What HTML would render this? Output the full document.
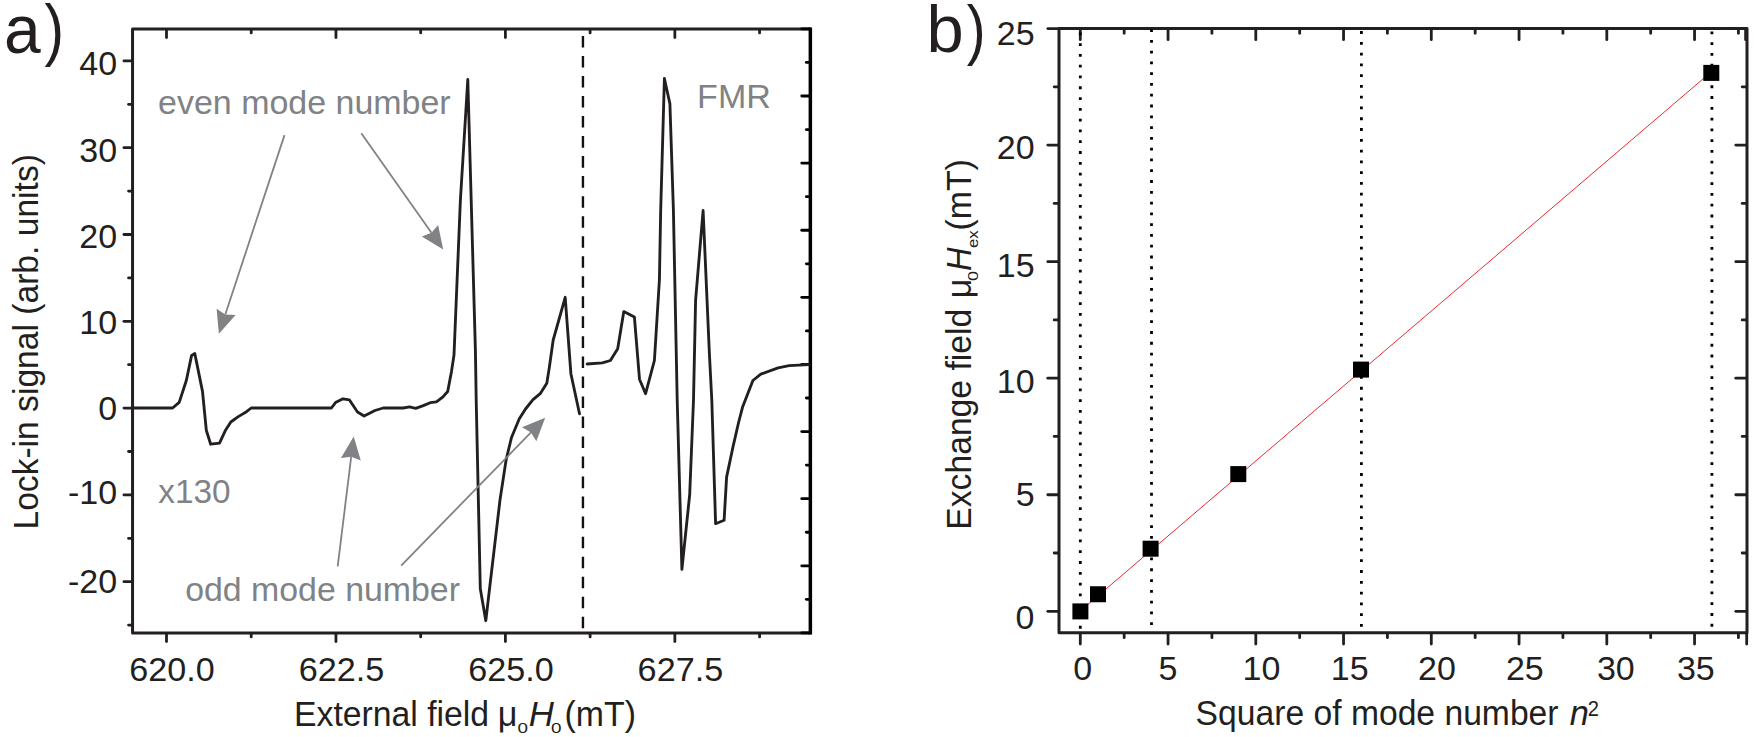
<!DOCTYPE html>
<html lang="en">
<head>
<meta charset="utf-8">
<title>Spin-wave resonance figure</title>
<style>
html,body{margin:0;padding:0;background:#fff;}
body{width:1754px;height:737px;overflow:hidden;}
svg{display:block;}
svg text{font-family:"Liberation Sans",sans-serif;}
</style>
</head>
<body>
<svg width="1754" height="737" viewBox="0 0 1754 737">
<rect x="0" y="0" width="1754" height="737" fill="#ffffff"/>
<path d="M810.35 28.9 H132.55 V632.9 H810.35" fill="none" stroke="#231f20" stroke-width="3.0" stroke-linejoin="round"/>
<line x1="810.35" y1="27.40" x2="810.35" y2="634.40" stroke="#000" stroke-width="3.5"/>
<line x1="131.85" y1="581.70" x2="123.95" y2="581.70" stroke="#231f20" stroke-width="2.8" stroke-linecap="round"/>
<line x1="131.85" y1="494.90" x2="123.95" y2="494.90" stroke="#231f20" stroke-width="2.8" stroke-linecap="round"/>
<line x1="131.85" y1="408.10" x2="123.95" y2="408.10" stroke="#231f20" stroke-width="2.8" stroke-linecap="round"/>
<line x1="131.85" y1="321.30" x2="123.95" y2="321.30" stroke="#231f20" stroke-width="2.8" stroke-linecap="round"/>
<line x1="131.85" y1="234.50" x2="123.95" y2="234.50" stroke="#231f20" stroke-width="2.8" stroke-linecap="round"/>
<line x1="131.85" y1="147.70" x2="123.95" y2="147.70" stroke="#231f20" stroke-width="2.8" stroke-linecap="round"/>
<line x1="131.85" y1="60.90" x2="123.95" y2="60.90" stroke="#231f20" stroke-width="2.8" stroke-linecap="round"/>
<line x1="131.85" y1="625.10" x2="128.55" y2="625.10" stroke="#231f20" stroke-width="2.8" stroke-linecap="round"/>
<line x1="131.85" y1="538.30" x2="128.55" y2="538.30" stroke="#231f20" stroke-width="2.8" stroke-linecap="round"/>
<line x1="131.85" y1="451.50" x2="128.55" y2="451.50" stroke="#231f20" stroke-width="2.8" stroke-linecap="round"/>
<line x1="131.85" y1="364.70" x2="128.55" y2="364.70" stroke="#231f20" stroke-width="2.8" stroke-linecap="round"/>
<line x1="131.85" y1="277.90" x2="128.55" y2="277.90" stroke="#231f20" stroke-width="2.8" stroke-linecap="round"/>
<line x1="131.85" y1="191.10" x2="128.55" y2="191.10" stroke="#231f20" stroke-width="2.8" stroke-linecap="round"/>
<line x1="131.85" y1="104.30" x2="128.55" y2="104.30" stroke="#231f20" stroke-width="2.8" stroke-linecap="round"/>
<line x1="166.50" y1="633.60" x2="166.50" y2="641.50" stroke="#231f20" stroke-width="2.8" stroke-linecap="round"/>
<line x1="166.50" y1="29.60" x2="166.50" y2="37.50" stroke="#231f20" stroke-width="2.8" stroke-linecap="round"/>
<line x1="335.95" y1="633.60" x2="335.95" y2="641.50" stroke="#231f20" stroke-width="2.8" stroke-linecap="round"/>
<line x1="335.95" y1="29.60" x2="335.95" y2="37.50" stroke="#231f20" stroke-width="2.8" stroke-linecap="round"/>
<line x1="505.40" y1="633.60" x2="505.40" y2="641.50" stroke="#231f20" stroke-width="2.8" stroke-linecap="round"/>
<line x1="505.40" y1="29.60" x2="505.40" y2="37.50" stroke="#231f20" stroke-width="2.8" stroke-linecap="round"/>
<line x1="674.85" y1="633.60" x2="674.85" y2="641.50" stroke="#231f20" stroke-width="2.8" stroke-linecap="round"/>
<line x1="674.85" y1="29.60" x2="674.85" y2="37.50" stroke="#231f20" stroke-width="2.8" stroke-linecap="round"/>
<line x1="251.22" y1="633.60" x2="251.22" y2="636.90" stroke="#231f20" stroke-width="2.8" stroke-linecap="round"/>
<line x1="251.22" y1="29.60" x2="251.22" y2="32.90" stroke="#231f20" stroke-width="2.8" stroke-linecap="round"/>
<line x1="420.68" y1="633.60" x2="420.68" y2="636.90" stroke="#231f20" stroke-width="2.8" stroke-linecap="round"/>
<line x1="420.68" y1="29.60" x2="420.68" y2="32.90" stroke="#231f20" stroke-width="2.8" stroke-linecap="round"/>
<line x1="590.12" y1="633.60" x2="590.12" y2="636.90" stroke="#231f20" stroke-width="2.8" stroke-linecap="round"/>
<line x1="590.12" y1="29.60" x2="590.12" y2="32.90" stroke="#231f20" stroke-width="2.8" stroke-linecap="round"/>
<line x1="759.58" y1="633.60" x2="759.58" y2="636.90" stroke="#231f20" stroke-width="2.8" stroke-linecap="round"/>
<line x1="759.58" y1="29.60" x2="759.58" y2="32.90" stroke="#231f20" stroke-width="2.8" stroke-linecap="round"/>
<line x1="809.65" y1="28.90" x2="801.75" y2="28.90" stroke="#000" stroke-width="2.8" stroke-linecap="round"/>
<line x1="809.65" y1="96.01" x2="801.75" y2="96.01" stroke="#000" stroke-width="2.8" stroke-linecap="round"/>
<line x1="809.65" y1="163.12" x2="801.75" y2="163.12" stroke="#000" stroke-width="2.8" stroke-linecap="round"/>
<line x1="809.65" y1="230.23" x2="801.75" y2="230.23" stroke="#000" stroke-width="2.8" stroke-linecap="round"/>
<line x1="809.65" y1="297.34" x2="801.75" y2="297.34" stroke="#000" stroke-width="2.8" stroke-linecap="round"/>
<line x1="809.65" y1="364.46" x2="801.75" y2="364.46" stroke="#000" stroke-width="2.8" stroke-linecap="round"/>
<line x1="809.65" y1="431.57" x2="801.75" y2="431.57" stroke="#000" stroke-width="2.8" stroke-linecap="round"/>
<line x1="809.65" y1="498.68" x2="801.75" y2="498.68" stroke="#000" stroke-width="2.8" stroke-linecap="round"/>
<line x1="809.65" y1="565.79" x2="801.75" y2="565.79" stroke="#000" stroke-width="2.8" stroke-linecap="round"/>
<line x1="809.65" y1="632.90" x2="801.75" y2="632.90" stroke="#000" stroke-width="2.8" stroke-linecap="round"/>
<line x1="809.65" y1="62.46" x2="806.35" y2="62.46" stroke="#000" stroke-width="2.8" stroke-linecap="round"/>
<line x1="809.65" y1="129.57" x2="806.35" y2="129.57" stroke="#000" stroke-width="2.8" stroke-linecap="round"/>
<line x1="809.65" y1="196.68" x2="806.35" y2="196.68" stroke="#000" stroke-width="2.8" stroke-linecap="round"/>
<line x1="809.65" y1="263.79" x2="806.35" y2="263.79" stroke="#000" stroke-width="2.8" stroke-linecap="round"/>
<line x1="809.65" y1="330.90" x2="806.35" y2="330.90" stroke="#000" stroke-width="2.8" stroke-linecap="round"/>
<line x1="809.65" y1="398.01" x2="806.35" y2="398.01" stroke="#000" stroke-width="2.8" stroke-linecap="round"/>
<line x1="809.65" y1="465.12" x2="806.35" y2="465.12" stroke="#000" stroke-width="2.8" stroke-linecap="round"/>
<line x1="809.65" y1="532.23" x2="806.35" y2="532.23" stroke="#000" stroke-width="2.8" stroke-linecap="round"/>
<line x1="809.65" y1="599.34" x2="806.35" y2="599.34" stroke="#000" stroke-width="2.8" stroke-linecap="round"/>
<line x1="582.95" y1="35.9" x2="582.95" y2="628.5" stroke="#140f10" stroke-width="2.4" stroke-dasharray="11.6 8.43"/>
<polyline points="132.8,408.0 172.6,408.0 179.2,402.4 186.4,380.2 191.6,355.4 194.8,353.6 202.5,391.4 206.3,430.2 210.7,444.2 219.5,443.1 225.2,430.8 230.8,422.0 238.3,416.6 246.5,411.7 251.2,408.0 331.4,408.0 335.5,402.6 343.0,398.8 349.3,399.8 357.5,412.0 364.1,416.0 375.0,410.5 383.2,408.0 403.2,408.0 409.5,406.8 415.7,408.4 423.3,405.6 430.2,402.7 436.4,401.9 442.7,397.1 447.7,391.5 451.5,371.4 454.0,355.0 460.4,200.0 467.8,79.5 475.4,350.0 476.2,400.0 480.3,588.8 485.8,620.7 500.0,499.9 506.2,459.3 511.5,437.5 519.3,418.7 525.5,409.0 533.0,399.6 540.5,393.3 546.8,383.3 549.3,367.6 553.2,340.0 565.2,297.3 570.9,373.7 579.5,413.8" fill="none" stroke="#231f20" stroke-width="2.85" stroke-linejoin="round" stroke-linecap="round"/>
<polyline points="587.1,364.0 602.4,362.9 610.4,360.5 617.7,348.8 623.8,311.6 634.4,317.1 639.5,379.2 645.6,393.7 654.4,360.5 659.4,280.0 660.7,210.0 664.4,78.5 669.9,103.8 673.4,210.0 677.2,400.0 681.9,569.4 689.7,494.5 693.5,400.0 695.6,300.2 703.1,210.5 709.4,353.7 711.8,400.0 715.6,523.7 724.1,520.3 726.6,477.1 732.9,447.2 738.7,422.0 742.5,407.3 752.9,380.5 760.8,374.2 778.1,367.9 789.1,365.7 809.0,364.7" fill="none" stroke="#231f20" stroke-width="2.85" stroke-linejoin="round" stroke-linecap="round"/>
<text x="158.07" y="113.80" font-size="34.0" fill="#808285" textLength="292.58" lengthAdjust="spacingAndGlyphs">even mode number</text>
<text x="185.18" y="601.00" font-size="34.0" fill="#808285" textLength="274.77" lengthAdjust="spacingAndGlyphs">odd mode number</text>
<text x="158.23" y="502.70" font-size="34.0" fill="#808285" textLength="72.38" lengthAdjust="spacingAndGlyphs">x130</text>
<text x="697.11" y="108.30" font-size="34.0" fill="#808285">FMR</text>
<line x1="284.50" y1="135.10" x2="225.30" y2="314.43" stroke="#808285" stroke-width="1.8"/>
<path d="M218.90 333.80 L216.61 308.82 L225.30 314.43 L235.61 315.09 Z" fill="#808285"/>
<line x1="361.30" y1="133.30" x2="431.45" y2="232.83" stroke="#808285" stroke-width="1.8"/>
<path d="M443.20 249.50 L421.78 236.46 L431.45 232.83 L438.12 224.94 Z" fill="#808285"/>
<line x1="337.70" y1="566.40" x2="351.21" y2="456.65" stroke="#808285" stroke-width="1.8"/>
<path d="M353.70 436.40 L360.82 460.45 L351.21 456.65 L340.97 458.01 Z" fill="#808285"/>
<line x1="401.20" y1="565.60" x2="530.96" y2="432.41" stroke="#808285" stroke-width="1.8"/>
<path d="M545.20 417.80 L536.31 441.25 L530.96 432.41 L521.99 427.30 Z" fill="#808285"/>
<text y="53.40" font-size="68.0" fill="#231f20"><tspan x="4.03" textLength="36.68" lengthAdjust="spacingAndGlyphs">a</tspan><tspan x="44.45" textLength="19.60" lengthAdjust="spacingAndGlyphs">)</tspan></text>
<text x="79.32" y="75.20" font-size="34.0" fill="#231f20">40</text>
<text x="79.32" y="161.80" font-size="34.0" fill="#231f20">30</text>
<text x="79.32" y="248.30" font-size="34.0" fill="#231f20">20</text>
<text x="79.32" y="334.40" font-size="34.0" fill="#231f20">10</text>
<text x="98.22" y="420.30" font-size="34.0" fill="#231f20">0</text>
<text x="68.00" y="503.90" font-size="34.0" fill="#231f20">-10</text>
<text x="68.00" y="592.90" font-size="34.0" fill="#231f20">-20</text>
<text x="129.29" y="681.00" font-size="34.0" fill="#231f20" textLength="85.45" lengthAdjust="spacingAndGlyphs">620.0</text>
<text x="298.74" y="681.00" font-size="34.0" fill="#231f20" textLength="85.56" lengthAdjust="spacingAndGlyphs">622.5</text>
<text x="468.19" y="681.00" font-size="34.0" fill="#231f20" textLength="85.45" lengthAdjust="spacingAndGlyphs">625.0</text>
<text x="637.64" y="681.00" font-size="34.0" fill="#231f20" textLength="85.56" lengthAdjust="spacingAndGlyphs">627.5</text>
<text fill="#231f20"><tspan x="294.03" y="726.00" font-size="35.5" textLength="195.12" lengthAdjust="spacingAndGlyphs">External field</tspan> <tspan x="497.71" y="726.00" font-size="35.5" textLength="19.69" lengthAdjust="spacingAndGlyphs">μ</tspan><tspan x="517.47" y="732.60" font-size="15.0" textLength="10.47" lengthAdjust="spacingAndGlyphs">0</tspan><tspan x="528.72" y="726.00" font-size="35.5" font-style="italic" textLength="25.15" lengthAdjust="spacingAndGlyphs">H</tspan><tspan x="551.07" y="732.60" font-size="15.0" textLength="10.47" lengthAdjust="spacingAndGlyphs">0</tspan><tspan x="564.60" y="726.00" font-size="35.5" textLength="71.39" lengthAdjust="spacingAndGlyphs">(mT)</tspan></text>
<g transform="translate(38.2 529.4) rotate(-90)">
<text x="-0.16" y="0.00" font-size="35.5" fill="#231f20" textLength="375.45" lengthAdjust="spacingAndGlyphs">Lock-in signal (arb. units)</text>
</g>
<rect x="1059.0" y="28.5" width="688.00" height="604.35" fill="none" stroke="#231f20" stroke-width="3.0" stroke-linejoin="round"/>
<line x1="1058.30" y1="611.30" x2="1047.80" y2="611.30" stroke="#231f20" stroke-width="2.8" stroke-linecap="round"/>
<line x1="1746.30" y1="611.30" x2="1735.80" y2="611.30" stroke="#231f20" stroke-width="2.8" stroke-linecap="round"/>
<line x1="1058.30" y1="494.75" x2="1047.80" y2="494.75" stroke="#231f20" stroke-width="2.8" stroke-linecap="round"/>
<line x1="1746.30" y1="494.75" x2="1735.80" y2="494.75" stroke="#231f20" stroke-width="2.8" stroke-linecap="round"/>
<line x1="1058.30" y1="378.20" x2="1047.80" y2="378.20" stroke="#231f20" stroke-width="2.8" stroke-linecap="round"/>
<line x1="1746.30" y1="378.20" x2="1735.80" y2="378.20" stroke="#231f20" stroke-width="2.8" stroke-linecap="round"/>
<line x1="1058.30" y1="261.65" x2="1047.80" y2="261.65" stroke="#231f20" stroke-width="2.8" stroke-linecap="round"/>
<line x1="1746.30" y1="261.65" x2="1735.80" y2="261.65" stroke="#231f20" stroke-width="2.8" stroke-linecap="round"/>
<line x1="1058.30" y1="145.10" x2="1047.80" y2="145.10" stroke="#231f20" stroke-width="2.8" stroke-linecap="round"/>
<line x1="1746.30" y1="145.10" x2="1735.80" y2="145.10" stroke="#231f20" stroke-width="2.8" stroke-linecap="round"/>
<line x1="1058.30" y1="28.55" x2="1047.80" y2="28.55" stroke="#231f20" stroke-width="2.8" stroke-linecap="round"/>
<line x1="1746.30" y1="28.55" x2="1735.80" y2="28.55" stroke="#231f20" stroke-width="2.8" stroke-linecap="round"/>
<line x1="1058.30" y1="553.02" x2="1054.20" y2="553.02" stroke="#231f20" stroke-width="2.8" stroke-linecap="round"/>
<line x1="1746.30" y1="553.02" x2="1742.20" y2="553.02" stroke="#231f20" stroke-width="2.8" stroke-linecap="round"/>
<line x1="1058.30" y1="436.47" x2="1054.20" y2="436.47" stroke="#231f20" stroke-width="2.8" stroke-linecap="round"/>
<line x1="1746.30" y1="436.47" x2="1742.20" y2="436.47" stroke="#231f20" stroke-width="2.8" stroke-linecap="round"/>
<line x1="1058.30" y1="319.92" x2="1054.20" y2="319.92" stroke="#231f20" stroke-width="2.8" stroke-linecap="round"/>
<line x1="1746.30" y1="319.92" x2="1742.20" y2="319.92" stroke="#231f20" stroke-width="2.8" stroke-linecap="round"/>
<line x1="1058.30" y1="203.38" x2="1054.20" y2="203.38" stroke="#231f20" stroke-width="2.8" stroke-linecap="round"/>
<line x1="1746.30" y1="203.38" x2="1742.20" y2="203.38" stroke="#231f20" stroke-width="2.8" stroke-linecap="round"/>
<line x1="1058.30" y1="86.82" x2="1054.20" y2="86.82" stroke="#231f20" stroke-width="2.8" stroke-linecap="round"/>
<line x1="1746.30" y1="86.82" x2="1742.20" y2="86.82" stroke="#231f20" stroke-width="2.8" stroke-linecap="round"/>
<line x1="1080.30" y1="633.55" x2="1080.30" y2="644.05" stroke="#231f20" stroke-width="2.8" stroke-linecap="round"/>
<line x1="1080.30" y1="29.20" x2="1080.30" y2="39.70" stroke="#231f20" stroke-width="2.8" stroke-linecap="round"/>
<line x1="1168.05" y1="633.55" x2="1168.05" y2="644.05" stroke="#231f20" stroke-width="2.8" stroke-linecap="round"/>
<line x1="1168.05" y1="29.20" x2="1168.05" y2="39.70" stroke="#231f20" stroke-width="2.8" stroke-linecap="round"/>
<line x1="1255.80" y1="633.55" x2="1255.80" y2="644.05" stroke="#231f20" stroke-width="2.8" stroke-linecap="round"/>
<line x1="1255.80" y1="29.20" x2="1255.80" y2="39.70" stroke="#231f20" stroke-width="2.8" stroke-linecap="round"/>
<line x1="1343.55" y1="633.55" x2="1343.55" y2="644.05" stroke="#231f20" stroke-width="2.8" stroke-linecap="round"/>
<line x1="1343.55" y1="29.20" x2="1343.55" y2="39.70" stroke="#231f20" stroke-width="2.8" stroke-linecap="round"/>
<line x1="1431.30" y1="633.55" x2="1431.30" y2="644.05" stroke="#231f20" stroke-width="2.8" stroke-linecap="round"/>
<line x1="1431.30" y1="29.20" x2="1431.30" y2="39.70" stroke="#231f20" stroke-width="2.8" stroke-linecap="round"/>
<line x1="1519.05" y1="633.55" x2="1519.05" y2="644.05" stroke="#231f20" stroke-width="2.8" stroke-linecap="round"/>
<line x1="1519.05" y1="29.20" x2="1519.05" y2="39.70" stroke="#231f20" stroke-width="2.8" stroke-linecap="round"/>
<line x1="1606.80" y1="633.55" x2="1606.80" y2="644.05" stroke="#231f20" stroke-width="2.8" stroke-linecap="round"/>
<line x1="1606.80" y1="29.20" x2="1606.80" y2="39.70" stroke="#231f20" stroke-width="2.8" stroke-linecap="round"/>
<line x1="1694.55" y1="633.55" x2="1694.55" y2="644.05" stroke="#231f20" stroke-width="2.8" stroke-linecap="round"/>
<line x1="1694.55" y1="29.20" x2="1694.55" y2="39.70" stroke="#231f20" stroke-width="2.8" stroke-linecap="round"/>
<line x1="1124.17" y1="633.55" x2="1124.17" y2="637.65" stroke="#231f20" stroke-width="2.8" stroke-linecap="round"/>
<line x1="1124.17" y1="29.20" x2="1124.17" y2="33.30" stroke="#231f20" stroke-width="2.8" stroke-linecap="round"/>
<line x1="1211.92" y1="633.55" x2="1211.92" y2="637.65" stroke="#231f20" stroke-width="2.8" stroke-linecap="round"/>
<line x1="1211.92" y1="29.20" x2="1211.92" y2="33.30" stroke="#231f20" stroke-width="2.8" stroke-linecap="round"/>
<line x1="1299.67" y1="633.55" x2="1299.67" y2="637.65" stroke="#231f20" stroke-width="2.8" stroke-linecap="round"/>
<line x1="1299.67" y1="29.20" x2="1299.67" y2="33.30" stroke="#231f20" stroke-width="2.8" stroke-linecap="round"/>
<line x1="1387.42" y1="633.55" x2="1387.42" y2="637.65" stroke="#231f20" stroke-width="2.8" stroke-linecap="round"/>
<line x1="1387.42" y1="29.20" x2="1387.42" y2="33.30" stroke="#231f20" stroke-width="2.8" stroke-linecap="round"/>
<line x1="1475.17" y1="633.55" x2="1475.17" y2="637.65" stroke="#231f20" stroke-width="2.8" stroke-linecap="round"/>
<line x1="1475.17" y1="29.20" x2="1475.17" y2="33.30" stroke="#231f20" stroke-width="2.8" stroke-linecap="round"/>
<line x1="1562.92" y1="633.55" x2="1562.92" y2="637.65" stroke="#231f20" stroke-width="2.8" stroke-linecap="round"/>
<line x1="1562.92" y1="29.20" x2="1562.92" y2="33.30" stroke="#231f20" stroke-width="2.8" stroke-linecap="round"/>
<line x1="1650.67" y1="633.55" x2="1650.67" y2="637.65" stroke="#231f20" stroke-width="2.8" stroke-linecap="round"/>
<line x1="1650.67" y1="29.20" x2="1650.67" y2="33.30" stroke="#231f20" stroke-width="2.8" stroke-linecap="round"/>
<line x1="1738.42" y1="633.55" x2="1738.42" y2="637.65" stroke="#231f20" stroke-width="2.8" stroke-linecap="round"/>
<line x1="1738.42" y1="29.20" x2="1738.42" y2="33.30" stroke="#231f20" stroke-width="2.8" stroke-linecap="round"/>
<line x1="1746.70" y1="633.55" x2="1746.70" y2="644.05" stroke="#231f20" stroke-width="2.8" stroke-linecap="round"/>
<line x1="1745.60" y1="29.20" x2="1745.60" y2="39.70" stroke="#231f20" stroke-width="2.8" stroke-linecap="round"/>
<line x1="1080.30" y1="32.4" x2="1080.30" y2="630" stroke="#000" stroke-width="2.8" stroke-dasharray="2.8 7.990"/>
<line x1="1151.50" y1="29.1" x2="1151.50" y2="630" stroke="#000" stroke-width="2.8" stroke-dasharray="2.8 7.985"/>
<line x1="1361.40" y1="31.1" x2="1361.40" y2="630" stroke="#000" stroke-width="2.8" stroke-dasharray="2.8 7.980"/>
<line x1="1711.90" y1="31.5" x2="1711.90" y2="630" stroke="#000" stroke-width="2.8" stroke-dasharray="2.8 7.970"/>
<line x1="1080.30" y1="610.90" x2="1711.50" y2="71.70" stroke="#ed1c24" stroke-width="0.95"/>
<rect x="1072.40" y="603.40" width="16" height="16" fill="#000"/>
<rect x="1090.00" y="586.25" width="16" height="16" fill="#000"/>
<rect x="1142.60" y="540.70" width="16" height="16" fill="#000"/>
<rect x="1230.30" y="466.10" width="16" height="16" fill="#000"/>
<rect x="1353.00" y="361.60" width="16" height="16" fill="#000"/>
<rect x="1703.30" y="64.90" width="16" height="16" fill="#000"/>
<text y="51.90" font-size="67.0" fill="#231f20"><tspan x="926.62" textLength="37.20" lengthAdjust="spacingAndGlyphs">b</tspan><tspan x="966.76" textLength="18.85" lengthAdjust="spacingAndGlyphs">)</tspan></text>
<text x="996.82" y="44.50" font-size="34.0" fill="#231f20">25</text>
<text x="996.72" y="158.80" font-size="34.0" fill="#231f20">20</text>
<text x="996.82" y="277.40" font-size="34.0" fill="#231f20">15</text>
<text x="996.72" y="392.70" font-size="34.0" fill="#231f20">10</text>
<text x="1015.72" y="505.70" font-size="34.0" fill="#231f20">5</text>
<text x="1015.62" y="628.50" font-size="34.0" fill="#231f20">0</text>
<text x="1073.27" y="679.50" font-size="34.0" fill="#231f20">0</text>
<text x="1158.54" y="679.50" font-size="34.0" fill="#231f20">5</text>
<text x="1242.52" y="679.50" font-size="34.0" fill="#231f20">10</text>
<text x="1330.72" y="679.50" font-size="34.0" fill="#231f20">15</text>
<text x="1418.00" y="679.50" font-size="34.0" fill="#231f20">20</text>
<text x="1505.90" y="679.50" font-size="34.0" fill="#231f20">25</text>
<text x="1596.91" y="679.50" font-size="34.0" fill="#231f20">30</text>
<text x="1676.91" y="679.50" font-size="34.0" fill="#231f20">35</text>
<text fill="#231f20"><tspan x="1195.59" y="724.60" font-size="34.2" textLength="362.96" lengthAdjust="spacingAndGlyphs">Square of mode number</tspan> <tspan x="1569.75" y="724.60" font-size="34.2" font-style="italic" textLength="19.10" lengthAdjust="spacingAndGlyphs">n</tspan><tspan x="1587.79" y="716.20" font-size="22.0" textLength="11.22" lengthAdjust="spacingAndGlyphs">2</tspan></text>
<g transform="translate(971.2 529.5) rotate(-90)">
<text fill="#231f20"><tspan x="-0.16" y="0.00" font-size="34.2" textLength="220.82" lengthAdjust="spacingAndGlyphs">Exchange field</tspan> <tspan x="231.13" y="0.00" font-size="34.2" textLength="19.56" lengthAdjust="spacingAndGlyphs">μ</tspan><tspan x="248.50" y="7.20" font-size="15.0" textLength="10.01" lengthAdjust="spacingAndGlyphs">0</tspan><tspan x="258.39" y="0.00" font-size="34.2" font-style="italic" textLength="23.59" lengthAdjust="spacingAndGlyphs">H</tspan><tspan x="281.49" y="7.20" font-size="15.0" textLength="17.80" lengthAdjust="spacingAndGlyphs">ex</tspan><tspan x="299.00" y="0.00" font-size="34.2" textLength="71.39" lengthAdjust="spacingAndGlyphs">(mT)</tspan></text>
</g>
</svg>
</body>
</html>
